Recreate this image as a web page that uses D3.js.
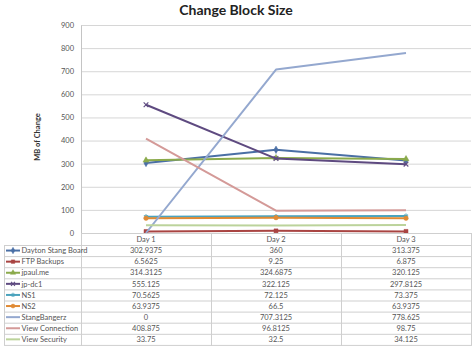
<!DOCTYPE html>
<html>
<head>
<meta charset="utf-8">
<script src="https://cdn.jsdelivr.net/npm/d3@7"></script>
<style>
  html, body { margin: 0; padding: 0; background: #fff; }
  svg { display: block; font-family: Lato, "Open Sans", sans-serif; }
</style>
</head>
<body>
<svg id="chart" width="474" height="348"></svg>
<script>
// Change volume per host over three days (MB)
const categories = ["Day 1", "Day 2", "Day 3"];
const seriesNames = ["Dayton Stang Board", "FTP Backups", "jpaul.me", "jp-dc1", "NS1", "NS2", "StangBangerz", "View Connection", "View Security"];
const daytonStangBoard = [302.9375, 360, 313.375];
const ftpBackups = [6.5625, 9.25, 6.875];
const jpaulMe = [314.3125, 324.6875, 320.125];
const jpDc1 = [555.125, 322.125, 297.8125];
const ns1 = [70.5625, 72.125, 73.375];
const ns2 = [63.9375, 66.5, 63.9375];
const stangBangerz = [0, 707.3125, 778.625];
const viewConnection = [408.875, 96.8125, 98.75];
const viewSecurity = [33.75, 32.5, 34.125];
const yTicks = [0, 100, 200, 300, 400, 500, 600, 700, 800, 900];
const colors = ["#4A6FA5", "#A94442", "#8BAA4B", "#5E4A80", "#4BA3BD", "#E08A34", "#94A8CF", "#D49A98", "#BCD39B"];
const markers = ["diamond", "square", "triangle", "cross", "star", "circle", null, null, null];

const allValues = [daytonStangBoard, ftpBackups, jpaulMe, jpDc1, ns1, ns2, stangBangerz, viewConnection, viewSecurity];
const series = seriesNames.map((name, i) => ({ name, values: allValues[i], color: colors[i], marker: markers[i] }));

const svg = d3.select("#chart");
const plotLeft = 81, plotRight = 471, plotTop = 25, plotBottom = 233;
const textColor = "#555";

const x = d3.scaleBand().domain(categories).range([plotLeft, plotRight]);
const y = d3.scaleLinear().domain([0, 900]).range([plotBottom, plotTop]);

// Title
svg.append("text").attr("x", 236).attr("y", 15).attr("text-anchor", "middle")
  .attr("font-size", 14).attr("font-weight", "bold").attr("fill", "#222").text("Change Block Size");

// Gridlines
svg.append("g").selectAll("line").data(yTicks).join("line")
  .attr("x1", plotLeft).attr("x2", plotRight)
  .attr("y1", d => y(d) + 0.5).attr("y2", d => y(d) + 0.5)
  .attr("stroke", "#d6d6d6").attr("stroke-width", 1);

// Y axis
const yAxis = d3.axisLeft(y).tickValues(yTicks).tickSize(0).tickPadding(7);
const ga = svg.append("g").attr("transform", `translate(${plotLeft},0)`).call(yAxis);
ga.select(".domain").attr("stroke", "#c4c4c4");
ga.selectAll("text").attr("font-size", 7.5).attr("fill", textColor).attr("font-family", "Lato, sans-serif");

svg.append("text").attr("transform", `translate(40,${(plotTop + plotBottom) / 2 + 8}) rotate(-90)`)
  .attr("text-anchor", "middle").attr("font-size", 7.5).attr("font-weight", "bold")
  .attr("fill", "#333").text("MB of Change");

// Lines, later series drawn on top
const line = d3.line().x((d, i) => x(categories[i]) + x.bandwidth() / 2).y(d => y(d));
const plot = svg.append("g");

function drawMarker(g, type, cx, cy, color, size) {
  const sym = {
    diamond: d3.symbolDiamond, square: d3.symbolSquare, triangle: d3.symbolTriangle,
    cross: d3.symbolX, star: d3.symbolAsterisk, circle: d3.symbolCircle
  }[type];
  if (!sym) return;
  const stroked = type === "cross" || type === "star";
  g.append("path").attr("d", d3.symbol().type(sym).size(size)())
    .attr("transform", `translate(${cx},${cy})`)
    .attr("fill", stroked ? "none" : color)
    .attr("stroke", color).attr("stroke-width", stroked ? 1.1 : 0.5);
}

series.forEach(s => {
  plot.append("path").attr("d", line(s.values)).attr("fill", "none")
    .attr("stroke", s.color).attr("stroke-width", 2).attr("stroke-linejoin", "round");
  s.values.forEach((v, i) => {
    drawMarker(plot, s.marker, x(categories[i]) + x.bandwidth() / 2, y(v), s.color, 16);
  });
});

// Data table
const tableTop = plotBottom, headH = 12, rowH = 11.1, labelLeft = 4;
const tbl = svg.append("g").attr("font-size", 7.5).attr("fill", textColor);
const border = "#cfcfcf";
categories.forEach(c => {
  tbl.append("rect").attr("x", x(c) + 0.5).attr("y", tableTop + 0.5)
    .attr("width", x.bandwidth()).attr("height", headH + series.length * rowH)
    .attr("fill", "none").attr("stroke", border);
  tbl.append("text").attr("x", x(c) + x.bandwidth() / 2).attr("y", tableTop + 9)
    .attr("text-anchor", "middle").text(c);
});
tbl.append("rect").attr("x", labelLeft + 0.5).attr("y", tableTop + headH + 0.5)
  .attr("width", plotLeft - labelLeft).attr("height", series.length * rowH)
  .attr("fill", "none").attr("stroke", border);

series.forEach((s, r) => {
  const ry = tableTop + headH + r * rowH;
  tbl.append("line").attr("x1", labelLeft).attr("x2", plotRight)
    .attr("y1", ry + 0.5).attr("y2", ry + 0.5).attr("stroke", border);
  const cy = ry + rowH / 2;
  tbl.append("line").attr("x1", 6).attr("x2", 20).attr("y1", cy).attr("y2", cy)
    .attr("stroke", s.color).attr("stroke-width", 2);
  drawMarker(tbl, s.marker, 13, cy, s.color, 12);
  tbl.append("text").attr("x", 21.5).attr("y", cy + 2.7).text(s.name);
  s.values.forEach((v, i) => {
    tbl.append("text").attr("x", x(categories[i]) + x.bandwidth() / 2).attr("y", cy + 2.7)
      .attr("text-anchor", "middle").text(String(v));
  });
});
</script>
</body>
</html>
